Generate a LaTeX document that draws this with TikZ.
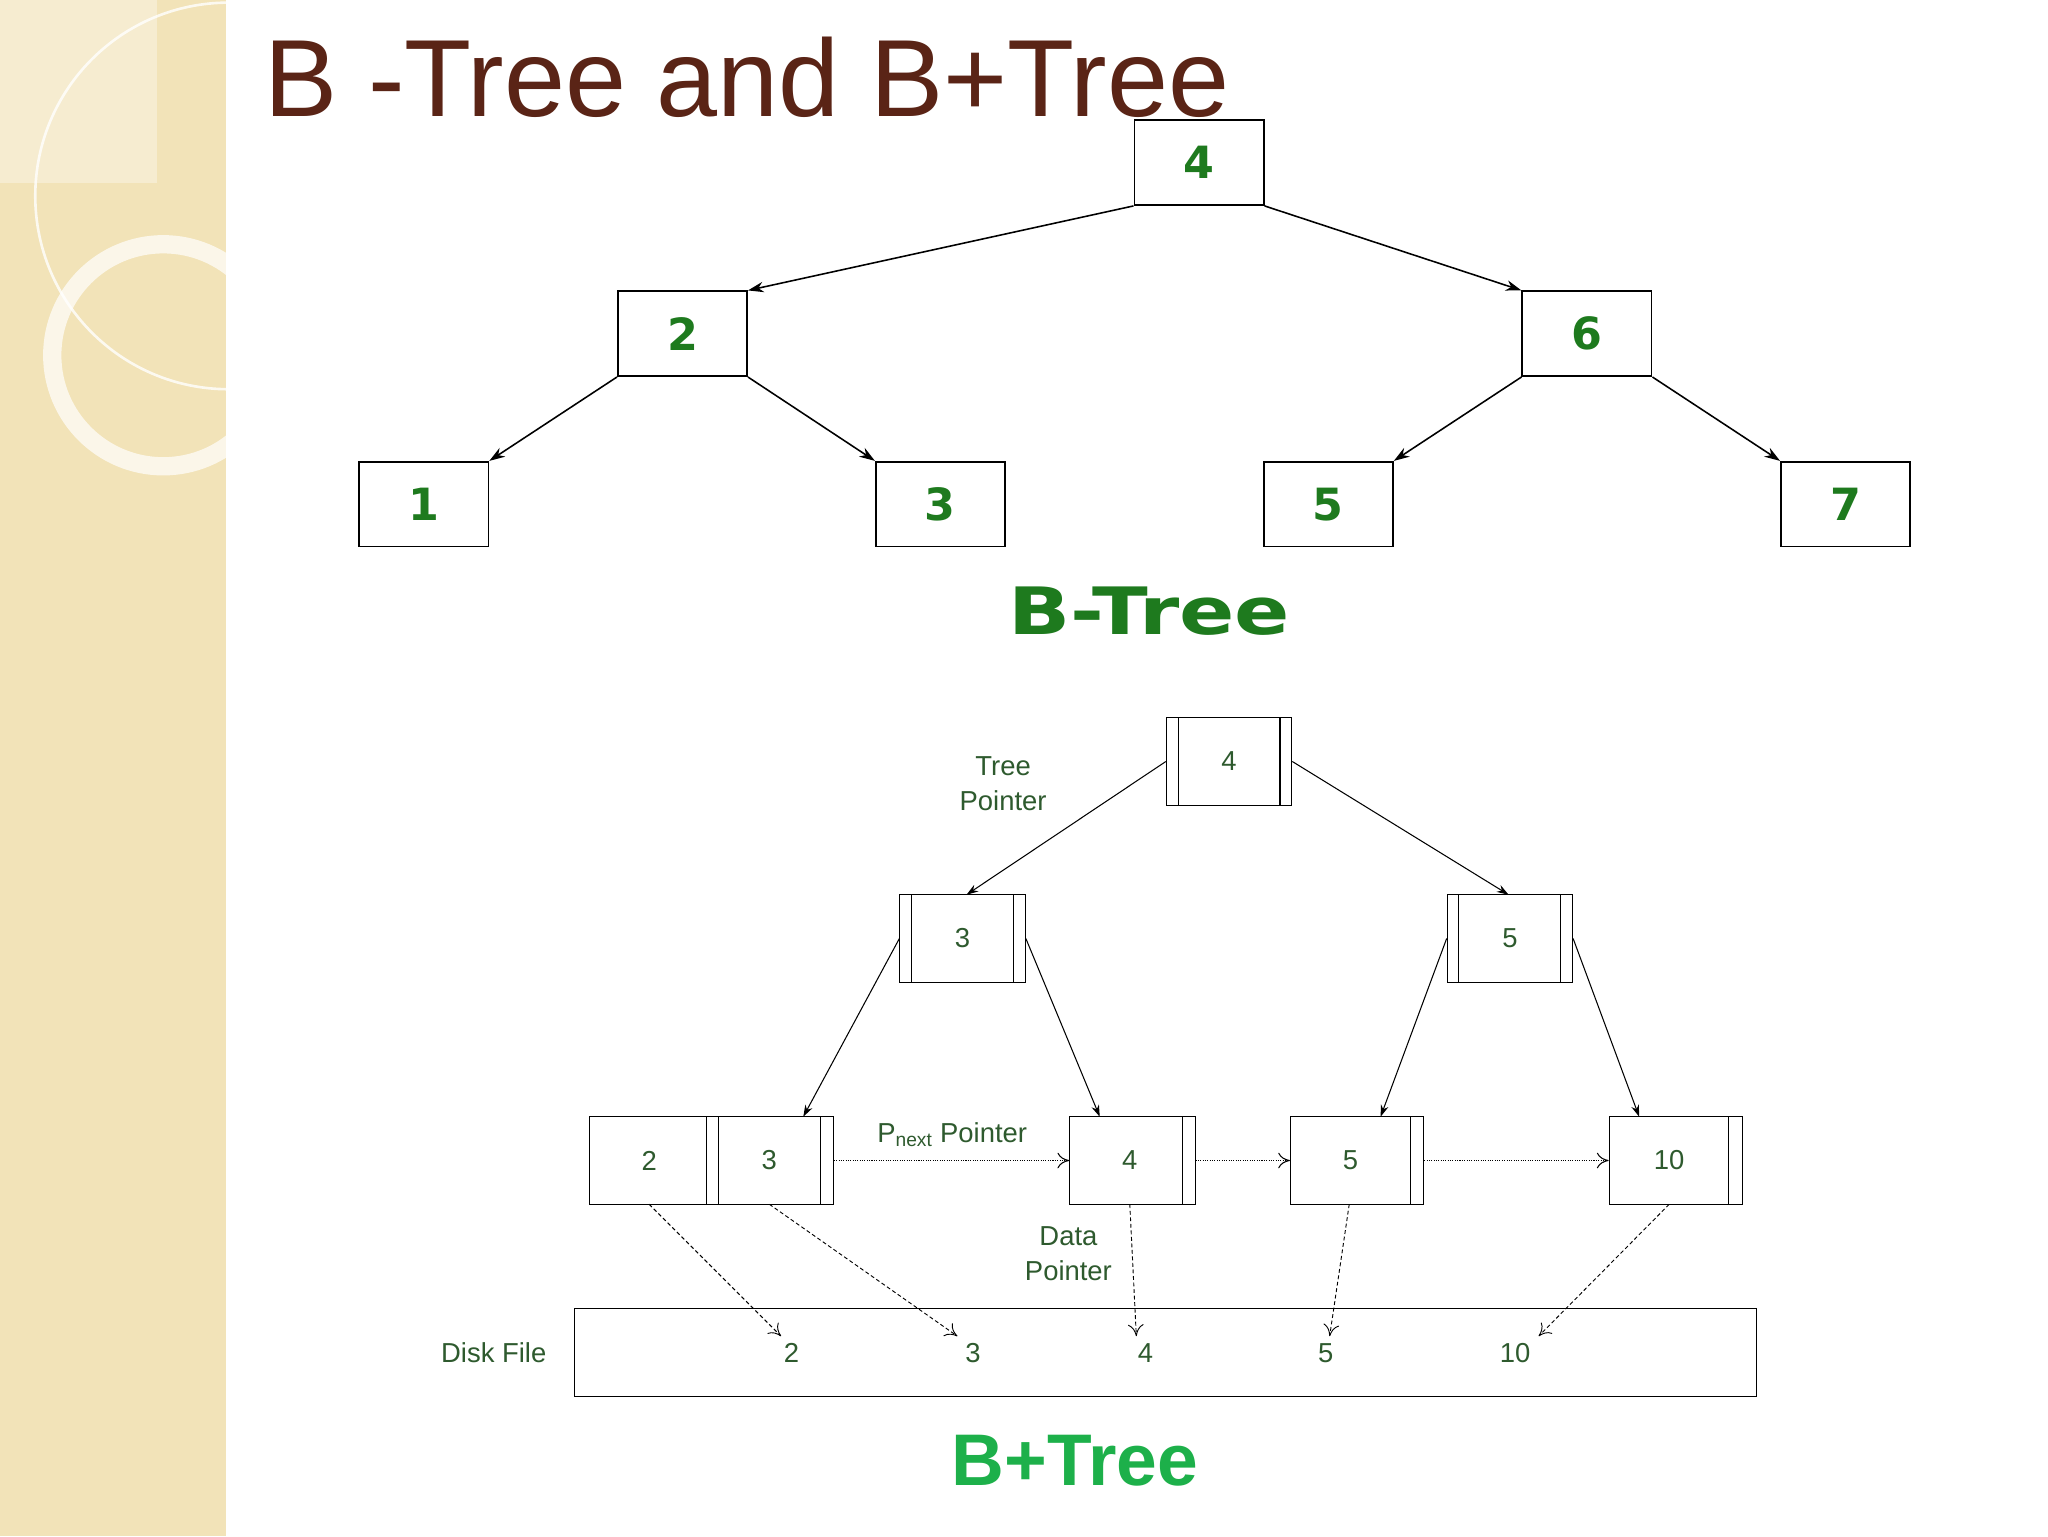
\documentclass[tikz,border=0pt]{standalone}
\usepackage{fontspec}
\setmainfont{Liberation Sans}
\newfontfamily\wide{DejaVu Sans}
\usetikzlibrary{arrows.meta}
\definecolor{strip}{HTML}{F2E3B8}
\definecolor{titlec}{HTML}{5A2416}
\definecolor{bgreen}{HTML}{1E7A1E}
\definecolor{pgreen}{HTML}{2E5A2E}
\definecolor{lgreen}{HTML}{1DB04A}
\tikzset{
 bbox/.style={draw,line width=1.3pt,minimum width=99pt,minimum height=65pt,inner sep=0pt,font=\wide\bfseries\fontsize{34}{36}\selectfont,text=bgreen},
 barr/.style={-{Stealth[length=12pt,width=8pt]},line width=1.2pt},
 pbox/.style={draw,line width=0.8pt,inner sep=0pt,font=\fontsize{21}{24}\selectfont,text=pgreen},
 ptxt/.style={inner sep=0pt,font=\fontsize{21}{24}\selectfont,text=pgreen},
 parr/.style={-{Stealth[length=9pt,width=6pt]},line width=0.8pt},
 dotarr/.style={-{To[length=9pt,width=12pt]},densely dotted,line width=0.8pt},
 dasharr/.style={-{To[length=9pt,width=12pt]},dashed,dash pattern=on 3pt off 2pt,line width=0.7pt},
 lbl/.style={font=\fontsize{21}{25}\selectfont,text=pgreen,align=center}
}
\begin{document}
\begin{tikzpicture}[x=1pt,y=-1pt]
\useasboundingbox (0,0) rectangle (1568,1176);
\fill[white] (0,0) rectangle (1568,1176);
\fill[strip] (0,0) rectangle (173,1176);
\fill[white,opacity=0.35] (0,0) rectangle (120,140);
\begin{scope}
\clip (0,0) rectangle (173,1176);
\draw[white,opacity=0.8,line width=2pt] (175,150) circle (148);
\draw[white,opacity=0.7,line width=14pt] (125,272) circle (85);
\end{scope}
\node[anchor=base west,font=\fontsize{84}{90}\selectfont,text=titlec] (title) at (199,89) {B -Tree and B+Tree};
% B-Tree
\node[bbox] (b4) at (918,124.5) {4};
\node[bbox] (b2) at (522.5,255.5) {2};
\node[bbox] (b6) at (1215,255.5) {6};
\node[bbox] (b1) at (324.5,386) {1};
\node[bbox] (b3) at (720,386) {3};
\node[bbox] (b5) at (1017,386) {5};
\node[bbox] (b7) at (1413,386) {7};
\draw[barr] (b4.south west) -- (b2.north east);
\draw[barr] (b4.south east) -- (b6.north west);
\draw[barr] (b2.south west) -- (b1.north east);
\draw[barr] (b2.south east) -- (b3.north west);
\draw[barr] (b6.south west) -- (b5.north east);
\draw[barr] (b6.south east) -- (b7.north west);
\node[font=\wide\bfseries\fontsize{50}{55}\selectfont,text=bgreen,xscale=1.25] (bt) at (880,468) {B-Tree};
% B+Tree
\node[pbox,minimum width=96pt,minimum height=68pt] (p4) at (941,583) {4};
\draw[line width=0.8pt] (902,549) -- (902,617) (980,549) -- (980,617);
\node[pbox,minimum width=96pt,minimum height=67pt] (p3) at (737,718.5) {3};
\draw[line width=0.8pt] (698,685) -- (698,752) (776,685) -- (776,752);
\node[pbox,minimum width=96pt,minimum height=67pt] (p5) at (1156,718.5) {5};
\draw[line width=0.8pt] (1117,685) -- (1117,752) (1195,685) -- (1195,752);
\node[pbox,minimum width=187pt,minimum height=67pt] (l23) at (544.5,888.5) {};
\draw[line width=0.8pt] (541,855) -- (541,922) (550,855) -- (550,922) (628,855) -- (628,922);
\node[ptxt] (t2) at (497,888.5) {2};
\node[ptxt] (t3) at (589,888.5) {3};
\node[pbox,minimum width=96pt,minimum height=67pt] (l4) at (867,888.5) {};
\draw[line width=0.8pt] (905,855) -- (905,922);
\node[ptxt] (t4) at (865,888.5) {4};
\node[pbox,minimum width=102pt,minimum height=67pt] (l5) at (1039,888.5) {};
\draw[line width=0.8pt] (1080,855) -- (1080,922);
\node[ptxt] (t5) at (1034,888.5) {5};
\node[pbox,minimum width=102pt,minimum height=67pt] (l10) at (1283,888.5) {};
\draw[line width=0.8pt] (1323,855) -- (1323,922);
\node[ptxt] (t10) at (1278,888.5) {10};
\coordinate (p3t) at (740,685);
\coordinate (p5t) at (1155,685);
\draw[parr] (p4.west) -- (p3t);
\draw[parr] (p4.east) -- (p5t);
\draw[parr] (p3.west) -- (615,855);
\draw[parr] (p3.east) -- (842,855);
\draw[parr] (p5.west) -- (1057,855);
\draw[parr] (p5.east) -- (1255,855);
\draw[dotarr] (l23.east) -- (l4.west);
\draw[dotarr] (l4.east) -- (l5.west);
\draw[dotarr] (l5.east) -- (l10.west);
\node[draw,line width=0.8pt,minimum width=905pt,minimum height=67pt] (disk) at (892.5,1035.5) {};
\node[lbl] (d2) at (606,1036) {2};
\node[lbl] (d3) at (745,1036) {3};
\node[lbl] (d4) at (877,1036) {4};
\node[lbl] (d5) at (1015,1036) {5};
\node[lbl] (d10) at (1160,1036) {10};
\node[lbl] (df) at (378,1036) {Disk File};
\draw[dasharr] (497,922) -- (598,1023);
\draw[dasharr] (589,922) -- (733,1023);
\draw[dasharr] (865,922) -- (870,1023);
\draw[dasharr] (1033,922) -- (1018,1023);
\draw[dasharr] (1278,922) -- (1178,1023);
\node[lbl,font=\fontsize{21}{27}\selectfont] (tp) at (768,600) {Tree\\Pointer};
\node[lbl] (pn) at (729,869) {P\textsubscript{next} Pointer};
\node[lbl,font=\fontsize{21}{27}\selectfont] (dp) at (818,960) {Data\\Pointer};
\node[font=\bfseries\fontsize{56}{60}\selectfont,text=lgreen] (bpt) at (823,1118) {B+Tree};
\end{tikzpicture}
\end{document}
